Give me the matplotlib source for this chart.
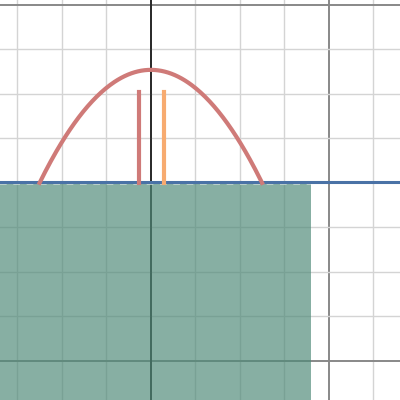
import numpy as np
import matplotlib
matplotlib.use("Agg")
import matplotlib.pyplot as plt

# data
parab_peak = 2.54
parab_root = 2.5
red_seg_x = [-0.27, -0.27]
red_seg_y = [0.0, 2.04]
orange_seg_x = [0.29, 0.29]
orange_seg_y = [0.0, 2.04]
region_xmax = 3.6
xlim = (-3.39, 5.6)
ylim = (-4.88, 4.11)

fig = plt.figure(figsize=(4, 4), dpi=100)
ax = fig.add_axes([0, 0, 1, 1])
ax.set_xlim(*xlim)
ax.set_ylim(*ylim)
ax.axis('off')

for v in np.arange(-3, 6):
    major = (v % 4 == 0)
    ax.axvline(v, color='#888888' if major else '#d4d4d4', lw=1.4 if major else 1, zorder=0)
for v in np.arange(-4, 5):
    major = (v % 4 == 0)
    ax.axhline(v, color='#888888' if major else '#d4d4d4', lw=1.4 if major else 1, zorder=0)
ax.axvline(0, color='#222222', lw=1.3, zorder=1)

# inequality region
ax.fill_between([xlim[0], region_xmax], ylim[0], 0, color='#4e8a78', alpha=0.68, lw=0, zorder=2)
ax.plot([xlim[0], region_xmax], [-0.03, -0.03], color='#c9d8d3', lw=1.2, ls=(0, (4, 4)), zorder=3)
ax.axhline(0.01, color='#4a72a6', lw=2.2, zorder=3)

xs = np.linspace(-parab_root, parab_root, 200)
ys = parab_peak * (1 - (xs / parab_root) ** 2)
ax.plot(xs, ys, color='#cf7a78', lw=3, zorder=4)
ax.plot(red_seg_x, red_seg_y, color='#cf7a78', lw=3, zorder=4)
ax.plot(orange_seg_x, orange_seg_y, color='#f7ab70', lw=3, zorder=4)

fig.savefig('out.png', dpi=100)
